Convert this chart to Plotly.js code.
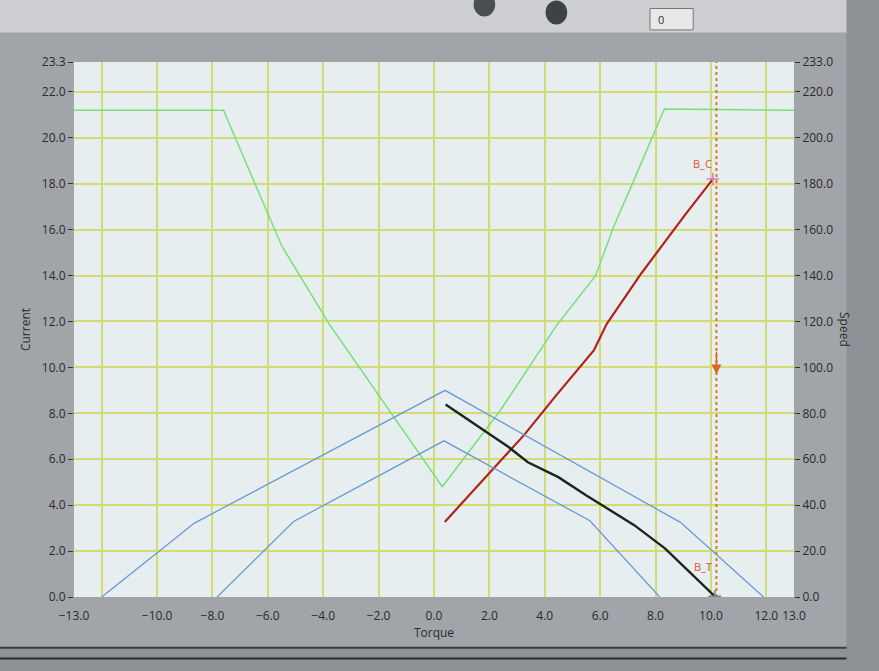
<!DOCTYPE html>
<html>
<head>
<meta charset="utf-8">
<script src="https://cdn.plot.ly/plotly-3.0.1.min.js"></script>
<style>
html,body{margin:0;padding:0;background:#9fa2a6;}
#chart{width:879px;height:671px;}
</style>
</head>
<body>
<div id="chart"></div>
<script>
// ---- data ----
const xTickVals = [-13,-10,-8,-6,-4,-2,0,2,4,6,8,10,12,13];
const xGridVals = [-12,-10,-8,-6,-4,-2,0,2,4,6,8,10,12];
const yTickVals = [0,2,4,6,8,10,12,14,16,18,20,22,23.3];
const y2TickVals = [0,20,40,60,80,100,120,140,160,180,200,220,233];

// green limit curve (Current axis)
const greenX = [-13,-7.6,-6.36,-5.5,-3.77,-1.59,0.3,2.38,4.44,5.83,6.48,7.15,8.32,13];
const greenY = [21.2,21.2,17.7,15.3,11.86,8.09,4.8,8.1,11.85,13.98,16.1,17.96,21.25,21.2];

// blue envelopes (Speed axis)
const blueUpX = [-12.0,-8.65,0.4,8.9,11.9];
const blueUpY = [0,32.2,90,32.5,0];
const blueLoX = [-7.83,-5.07,0.36,5.63,8.15];
const blueLoY = [0,32.9,68,33.2,0];

// measured current (red, Current axis)
const redX = [0.39,2.2,3.25,4.39,5.77,6.24,7.49,9.1,10.07];
const redY = [3.27,5.68,7.05,8.75,10.74,11.9,14.1,16.7,18.2];

// measured speed (black, Speed axis)
const blackX = [0.42,2.64,3.39,4.49,5.49,6.12,7.23,8.35,10.14];
const blackY = [83.8,65.8,58.7,52.2,44.3,39.7,31.3,21.1,0.3];

// cursor
const cursorX = 10.2;
const cursorArrowY = 9.7;
const cursorBC = {x:10.07, y:18.2};
const cursorBT = {x:10.14, y:0.3};

const tickFont = {family:'Open Sans, Noto Sans, sans-serif', size:12, color:'#2b2b2b'};
const gridCol = '#d3dc74';

const traces = [
  {x:greenX, y:greenY, mode:'lines', line:{color:'#78de7c', width:1.5}, yaxis:'y', hoverinfo:'skip'},
  {x:blueUpX, y:blueUpY, mode:'lines', line:{color:'#6b98d6', width:1.3}, yaxis:'y2', hoverinfo:'skip'},
  {x:blueLoX, y:blueLoY, mode:'lines', line:{color:'#6b98d6', width:1.3}, yaxis:'y2', hoverinfo:'skip'},
  {x:[cursorX,cursorX], y:[0,23.3], mode:'lines', line:{color:'#d9782c', width:2, dash:'dot'}, yaxis:'y', hoverinfo:'skip'},
  {x:redX, y:redY, mode:'lines', line:{color:'#b3221b', width:2.2}, yaxis:'y', hoverinfo:'skip'},
  {x:blackX, y:blackY, mode:'lines', line:{color:'#1b261c', width:2.4}, yaxis:'y2', hoverinfo:'skip'},
  {x:[cursorBC.x], y:[cursorBC.y], mode:'markers', marker:{symbol:'cross-thin-open', size:9, line:{color:'#d9782c', width:1.5}}, yaxis:'y', hoverinfo:'skip'},
  {x:[cursorBT.x], y:[cursorBT.y], mode:'markers', marker:{symbol:'cross-thin-open', size:9, line:{color:'#d9782c', width:1.5}}, yaxis:'y2', hoverinfo:'skip'}
];

const layout = {
  width:879, height:671,
  margin:{l:74, r:85, t:62, b:74},
  paper_bgcolor:'#a1a4a8',
  plot_bgcolor:'#e6eef0',
  showlegend:false,
  xaxis:{
    range:[-13,13], tickmode:'array', tickvals:xTickVals, tickformat:'.1f',
    showgrid:false, zeroline:false, ticks:'', tickfont:tickFont, ticklabelstandoff:10,
    minor:{tickmode:'array', tickvals:xGridVals, showgrid:true, gridcolor:gridCol, gridwidth:2, ticks:''},
    title:{text:'Torque', font:{family:'Open Sans, sans-serif', size:12, color:'#2b2b2b'}, standoff:5}
  },
  yaxis:{
    range:[0,23.3], tickmode:'array', tickvals:yTickVals, tickformat:'.1f',
    showgrid:true, gridcolor:gridCol, gridwidth:2, zeroline:false,
    ticks:'outside', ticklen:5, tickcolor:'#333', tickfont:tickFont,
    title:{text:'Current', font:{family:'Open Sans, sans-serif', size:12, color:'#2b2b2b'}, standoff:8}
  },
  yaxis2:{
    range:[0,233], overlaying:'y', side:'right', tickmode:'array', tickvals:y2TickVals, tickformat:'.1f',
    showgrid:false, zeroline:false, ticks:'outside', ticklen:5, tickcolor:'#333', tickfont:tickFont
  },
  annotations:[
    {x:1, xref:'paper', xshift:61, y:0.5, yref:'paper', text:'Speed', textangle:90, showarrow:false,
     font:{family:'Open Sans, sans-serif', size:12, color:'#2b2b2b'}},
    {x:cursorX, y:cursorArrowY, xref:'x', yref:'y', ax:0, ay:-24, showarrow:true, arrowhead:2, arrowsize:1.3, arrowwidth:1.5, arrowcolor:'#e0602a', text:''},
    {x:cursorX, y:cursorBC.y, xref:'x', yref:'y', yshift:16, xshift:-2, xanchor:'right', text:'B_C', showarrow:false,
     font:{family:'Open Sans, sans-serif', size:11, color:'#e0503a'}},
    {x:cursorX, y:cursorBT.y/10, xref:'x', yref:'y', yshift:30, xshift:-2, xanchor:'right', text:'B_T', showarrow:false,
     font:{family:'Open Sans, sans-serif', size:11, color:'#e0503a'}},
    {x:0.808, xref:'paper', y:1, yref:'paper', yshift:43, yanchor:'middle', text:'0', showarrow:false, xanchor:'left',
     font:{family:'Open Sans, sans-serif', size:11, color:'#333'}}
  ],
  shapes:[
    {type:'rect', xref:'paper', yref:'paper', x0:-0.2, x1:1.2, y0:1.055, y1:1.2, line:{width:0}, fillcolor:'#cdced1', layer:'below'},
    {type:'rect', xref:'paper', yref:'paper', x0:0.8, x1:0.86, y0:1.06, y1:1.1, line:{color:'#777', width:1}, fillcolor:'#e8e8e8', layer:'below'},
    {type:'circle', xref:'paper', yref:'paper', x0:0.555, x1:0.585, y0:1.085, y1:1.13, line:{width:0}, fillcolor:'#4a4d52', layer:'below'},
    {type:'circle', xref:'paper', yref:'paper', x0:0.655, x1:0.685, y0:1.07, y1:1.115, line:{width:0}, fillcolor:'#3e4146', layer:'below'},
    {type:'rect', xref:'paper', yref:'paper', x0:-0.2, x1:1.2, y0:-0.2, y1:-0.095, line:{width:0}, fillcolor:'#8f9296', layer:'below'},
    {type:'line', xref:'paper', yref:'paper', x0:-0.2, x1:1.2, y0:-0.095, y1:-0.095, line:{color:'#3a3c40', width:2}, layer:'below'},
    {type:'line', xref:'paper', yref:'paper', x0:-0.2, x1:1.2, y0:-0.115, y1:-0.115, line:{color:'#2a2c30', width:2}, layer:'below'},
    {type:'rect', xref:'paper', yref:'paper', x0:1.073, x1:1.2, y0:-0.2, y1:1.2, line:{width:0}, fillcolor:'#8d9094', layer:'below'}
  ]
};

Plotly.newPlot('chart', traces, layout, {displayModeBar:false, staticPlot:true});
</script>
</body>
</html>
